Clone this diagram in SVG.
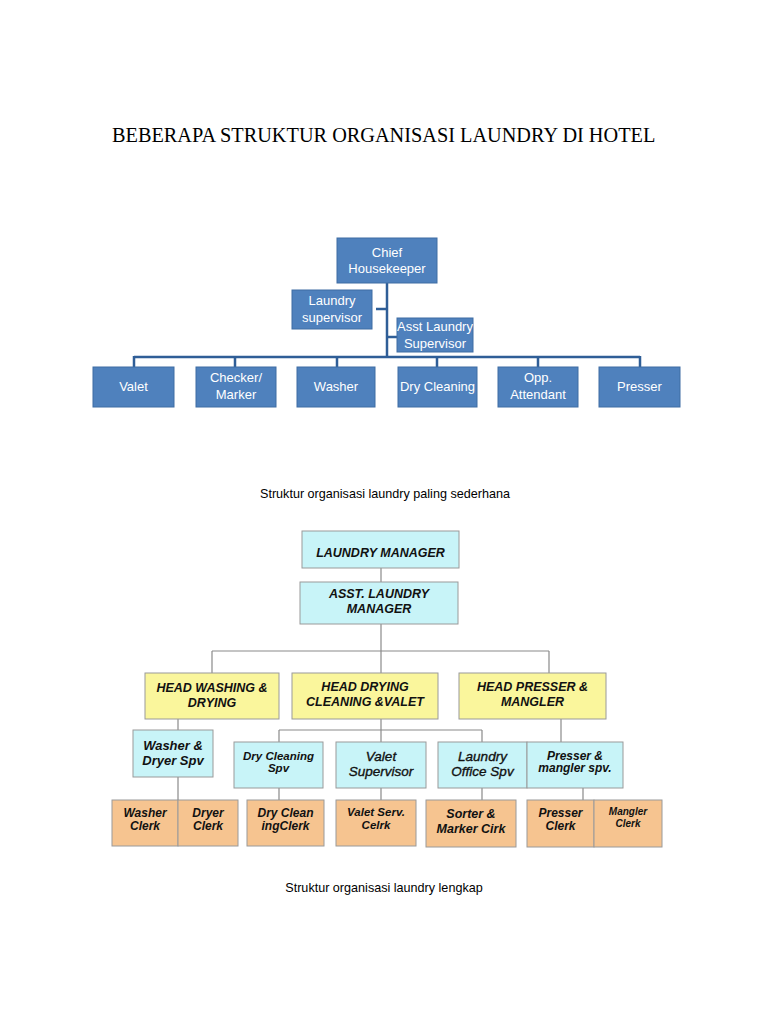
<svg xmlns="http://www.w3.org/2000/svg" width="768" height="1024" viewBox="0 0 768 1024">
<style>
.bg{fill:#ffffff}
.title{font-family:"Liberation Serif","Times New Roman",serif;font-size:20.3px;fill:#000}
.cap{font-family:"Liberation Sans",Arial,sans-serif;font-size:12.6px;fill:#000}
.b1{fill:#4F81BD;stroke:#3E6DA3;stroke-width:1}
.t1{font-family:"Liberation Sans",Arial,sans-serif;font-size:13px;fill:#ffffff;text-anchor:middle}
.c1{fill:none;stroke:#2F5E97;stroke-width:2.5}
.c2{fill:none;stroke:#8a8a8a;stroke-width:1.2}
.cy{fill:#C8F4F8;stroke:#9a9a9a;stroke-width:1}
.ye{fill:#FAF69C;stroke:#9a9a9a;stroke-width:1}
.or{fill:#F6C490;stroke:#9a9a9a;stroke-width:1}
.t2{font-family:"Liberation Sans",Arial,sans-serif;font-size:12.5px;font-weight:bold;font-style:italic;fill:#111;text-anchor:middle}
.t3{font-family:"Liberation Sans",Arial,sans-serif;font-size:13.5px;font-style:italic;fill:#111;stroke:#111;stroke-width:0.35;text-anchor:middle}
</style>
<rect class="bg" x="0" y="0" width="768" height="1024"/>
<text class="title" x="112" y="142">BEBERAPA STRUKTUR ORGANISASI LAUNDRY DI HOTEL</text>

<!-- Diagram 1 connectors -->
<g id="connectors1">
<path class="c1" d="M387,283 V357"/>
<path class="c1" d="M376,309 H387"/>
<path class="c1" d="M387,337 H397"/>
<path class="c1" d="M134,357 H640"/>
<path class="c1" d="M134,356 V367 M235,356 V367 M337,356 V367 M437,356 V367 M538,356 V367 M640,356 V367"/>
</g>
<g id="chief"><rect class="b1" x="337" y="238" width="100" height="45"/><text class="t1" x="387" y="257">Chief</text><text class="t1" x="387" y="273">Housekeeper</text></g>
<g id="laundry-supervisor"><rect class="b1" x="292" y="290" width="80" height="39"/><text class="t1" x="332" y="305">Laundry</text><text class="t1" x="332" y="322">supervisor</text></g>
<g id="asst-laundry-supervisor"><rect class="b1" x="397" y="318" width="76" height="34"/><text class="t1" x="435" y="331">Asst Laundry</text><text class="t1" x="435" y="348">Supervisor</text></g>
<g id="valet"><rect class="b1" x="93" y="367" width="81" height="40"/><text class="t1" x="133.5" y="391">Valet</text></g>
<g id="checker"><rect class="b1" x="196" y="367" width="80" height="40"/><text class="t1" x="236" y="382">Checker/</text><text class="t1" x="236" y="399">Marker</text></g>
<g id="washer"><rect class="b1" x="297" y="367" width="78" height="40"/><text class="t1" x="336" y="391">Washer</text></g>
<g id="dry-cleaning"><rect class="b1" x="398" y="367" width="79" height="40"/><text class="t1" x="437.5" y="391">Dry Cleaning</text></g>
<g id="opp-attendant"><rect class="b1" x="498" y="367" width="80" height="40"/><text class="t1" x="538" y="382">Opp.</text><text class="t1" x="538" y="399">Attendant</text></g>
<g id="presser"><rect class="b1" x="599" y="367" width="81" height="40"/><text class="t1" x="639.5" y="391">Presser</text></g>

<text class="cap" x="260" y="498">Struktur organisasi laundry paling sederhana</text>

<!-- Diagram 2 connectors -->
<g id="connectors2">
<path class="c2" d="M381,568 V582"/>
<path class="c2" d="M381,624 V673"/>
<path class="c2" d="M212,651 H549 M212,651 V673 M549,651 V673"/>
<path class="c2" d="M178,719 V846"/>
<path class="c2" d="M381,719 V742"/>
<path class="c2" d="M279,730 H482 M279,730 V742 M482,730 V742"/>
<path class="c2" d="M561,719 V742"/>
<path class="c2" d="M279,788 V800 M381,788 V800 M482,788 V800 M583,788 V800"/>
</g>
<g id="laundry-manager"><rect class="cy" x="302" y="531" width="157" height="37"/><text class="t2" x="380.5" y="557">LAUNDRY MANAGER</text></g>
<g id="asst-laundry-manager"><rect class="cy" x="300" y="582" width="158" height="42"/><text class="t2" x="379" y="598">ASST. LAUNDRY</text><text class="t2" x="379" y="613">MANAGER</text></g>
<g id="head-washing"><rect class="ye" x="145" y="673" width="134" height="46"/><text class="t2" x="212" y="692">HEAD WASHING &amp;</text><text class="t2" x="212" y="707">DRYING</text></g>
<g id="head-drying"><rect class="ye" x="292" y="673" width="146" height="46"/><text class="t2" x="365" y="691">HEAD DRYING</text><text class="t2" x="365" y="706">CLEANING &amp;VALET</text></g>
<g id="head-presser"><rect class="ye" x="459" y="673" width="147" height="46"/><text class="t2" x="532.5" y="691">HEAD PRESSER &amp;</text><text class="t2" x="532.5" y="706">MANGLER</text></g>

<g id="washer-dryer-spv"><rect class="cy" x="133" y="730" width="80" height="47"/><text class="t2" x="173" y="750" style="font-size:13px">Washer &amp;</text><text class="t2" x="173" y="765" style="font-size:13px">Dryer Spv</text></g>
<g id="dry-cleaning-spv"><rect class="cy" x="234" y="742" width="89" height="46"/><text class="t2" x="278.5" y="760" style="font-size:11.5px">Dry Cleaning</text><text class="t2" x="278.5" y="772" style="font-size:11.5px">Spv</text></g>
<g id="valet-supervisor"><rect class="cy" x="336" y="742" width="90" height="46"/><text class="t3" x="381" y="761">Valet</text><text class="t3" x="381" y="776">Supervisor</text></g>
<g id="laundry-office-spv"><rect class="cy" x="438" y="742" width="89" height="46"/><text class="t3" x="482.5" y="761">Laundry</text><text class="t3" x="482.5" y="776">Office Spv</text></g>
<g id="presser-mangler-spv"><rect class="cy" x="527" y="742" width="96" height="46"/><text class="t2" x="575" y="760" style="font-size:12px">Presser &amp;</text><text class="t2" x="575" y="772" style="font-size:12px">mangler spv.</text></g>

<g id="washer-clerk"><rect class="or" x="112" y="800" width="66" height="46"/><text class="t2" x="145" y="817" style="font-size:12px">Washer</text><text class="t2" x="145" y="830" style="font-size:12px">Clerk</text></g>
<g id="dryer-clerk"><rect class="or" x="178" y="800" width="60" height="46"/><text class="t2" x="208" y="817" style="font-size:12px">Dryer</text><text class="t2" x="208" y="830" style="font-size:12px">Clerk</text></g>
<g id="dry-clean-clerk"><rect class="or" x="247" y="800" width="77" height="46"/><text class="t2" x="285.5" y="817" style="font-size:12px">Dry Clean</text><text class="t2" x="285.5" y="830" style="font-size:12px">ingClerk</text></g>
<g id="valet-serv-clerk"><rect class="or" x="336" y="800" width="80" height="46"/><text class="t2" x="376" y="816" style="font-size:11.5px">Valet Serv.</text><text class="t2" x="376" y="829" style="font-size:11.5px">Celrk</text></g>
<g id="sorter-marker"><rect class="or" x="426" y="800" width="90" height="47"/><text class="t2" x="471" y="818" style="font-size:12.5px">Sorter &amp;</text><text class="t2" x="471" y="833" style="font-size:12.5px">Marker Cirk</text></g>
<g id="presser-clerk"><rect class="or" x="527" y="800" width="67" height="47"/><text class="t2" x="560.5" y="817" style="font-size:12px">Presser</text><text class="t2" x="560.5" y="830" style="font-size:12px">Clerk</text></g>
<g id="mangler-clerk"><rect class="or" x="594" y="800" width="68" height="47"/><text class="t2" x="628" y="815" style="font-size:10px">Mangler</text><text class="t2" x="628" y="827" style="font-size:10px">Clerk</text></g>

<text class="cap" x="384" y="892" text-anchor="middle">Struktur organisasi laundry lengkap</text>
</svg>
